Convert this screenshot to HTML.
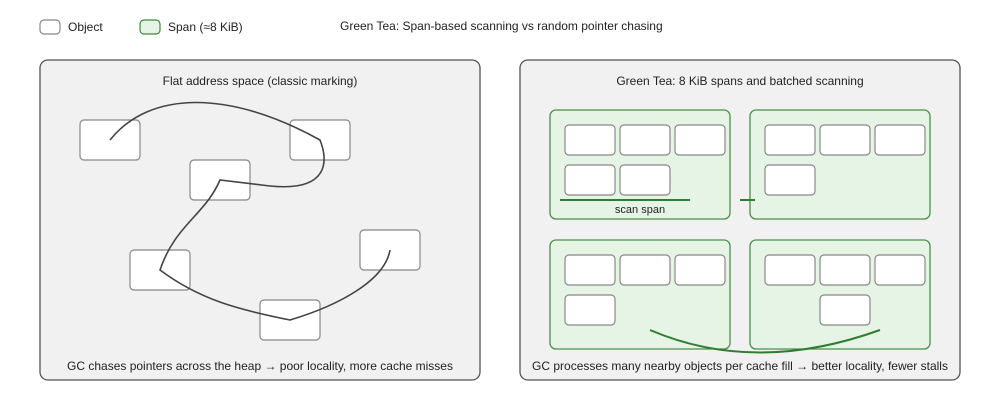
<!DOCTYPE html>
<html><head><meta charset="utf-8"><style>
html,body{margin:0;padding:0;background:#fff;}
svg{display:block;font-family:"Liberation Sans",Arial,sans-serif;}
</style></head><body>
<svg width="1000" height="420" viewBox="0 0 1000 420" xmlns="http://www.w3.org/2000/svg">
<g font-size="12" fill="#222">
<rect x="40" y="20" width="20" height="14" rx="4" fill="#fff" stroke="#888" stroke-width="1.2"/>
<text x="68" y="31">Object</text>
<rect x="140" y="20" width="20" height="14" rx="4" fill="#e6f4e6" stroke="#3f8a3f" stroke-width="1.2"/>
<text x="168" y="31">Span (≈8 KiB)</text>
<text x="340" y="30">Green Tea: Span-based scanning vs random pointer chasing</text>
</g>
<rect x="40" y="60" width="440" height="320" rx="8" fill="#f1f1f1" stroke="#555" stroke-width="1.3"/>
<text x="260" y="85" font-size="12" text-anchor="middle" fill="#222">Flat address space (classic marking)</text>
<g fill="#fff" stroke="#888" stroke-width="1.2">
<rect x="80" y="120" width="60" height="40" rx="4"/>
<rect x="290" y="120" width="60" height="40" rx="4"/>
<rect x="190" y="160" width="60" height="40" rx="4"/>
<rect x="130" y="250" width="60" height="40" rx="4"/>
<rect x="360" y="230" width="60" height="40" rx="4"/>
<rect x="260" y="300" width="60" height="40" rx="4"/>
</g>
<path d="M110,140 C150,90 230,90 320,140 C328,160 330,192 270,186 L220,180 C205,215 175,225 160,270 C200,300 240,310 290,320 C340,305 385,280 390,250" fill="none" stroke="#444" stroke-width="1.6"/>
<text x="260" y="370" font-size="12" text-anchor="middle" fill="#222">GC chases pointers across the heap → poor locality, more cache misses</text>

<rect x="520" y="60" width="440" height="320" rx="8" fill="#f1f1f1" stroke="#555" stroke-width="1.3"/>
<text x="740" y="85" font-size="12" text-anchor="middle" fill="#222">Green Tea: 8 KiB spans and batched scanning</text>
<g fill="#e6f4e6" stroke="#4a8f4a" stroke-width="1.3">
<rect x="550" y="110" width="180" height="109" rx="6"/>
<rect x="750" y="110" width="180" height="109" rx="6"/>
<rect x="550" y="240" width="180" height="109" rx="6"/>
<rect x="750" y="240" width="180" height="109" rx="6"/>
</g>
<g fill="#fff" stroke="#888" stroke-width="1.2">
<rect x="565" y="125" width="50" height="30" rx="4"/><rect x="620" y="125" width="50" height="30" rx="4"/><rect x="675" y="125" width="50" height="30" rx="4"/>
<rect x="565" y="165" width="50" height="30" rx="4"/><rect x="620" y="165" width="50" height="30" rx="4"/>
<rect x="765" y="125" width="50" height="30" rx="4"/><rect x="820" y="125" width="50" height="30" rx="4"/><rect x="875" y="125" width="50" height="30" rx="4"/>
<rect x="765" y="165" width="50" height="30" rx="4"/>
<rect x="565" y="255" width="50" height="30" rx="4"/><rect x="620" y="255" width="50" height="30" rx="4"/><rect x="675" y="255" width="50" height="30" rx="4"/>
<rect x="565" y="295" width="50" height="30" rx="4"/>
<rect x="765" y="255" width="50" height="30" rx="4"/><rect x="820" y="255" width="50" height="30" rx="4"/><rect x="875" y="255" width="50" height="30" rx="4"/>
<rect x="820" y="295" width="50" height="30" rx="4"/>
</g>
<line x1="560" y1="200" x2="690" y2="200" stroke="#2e7d32" stroke-width="2"/>
<line x1="740" y1="200" x2="755" y2="200" stroke="#2e7d32" stroke-width="2"/>
<text x="640" y="213" font-size="11" text-anchor="middle" fill="#222">scan span</text>
<path d="M650,330 Q755,375 880,330" fill="none" stroke="#2e7d32" stroke-width="2"/>
<text x="740" y="370" font-size="12" text-anchor="middle" fill="#222">GC processes many nearby objects per cache fill → better locality, fewer stalls</text>
</svg>
</body></html>
